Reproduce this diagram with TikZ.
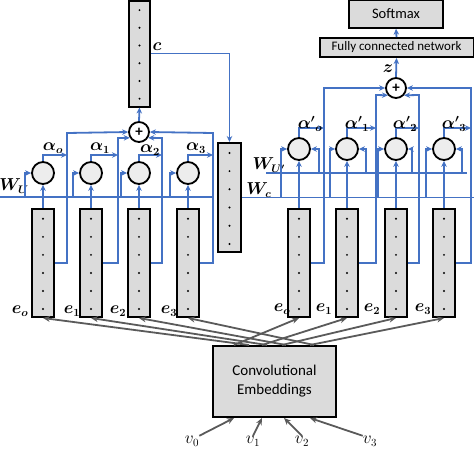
\documentclass[tikz,border=0pt]{standalone}
\usepackage{bm}
\usepackage{fontspec}
\setmainfont{Carlito}
\usetikzlibrary{arrows.meta,calc}
\definecolor{lnblue}{RGB}{68,114,196}
\definecolor{arrgray}{RGB}{90,90,90}
\tikzset{
  vecbox/.style={draw=black,line width=2pt,fill=black!14,inner sep=0pt},
  unit/.style={circle,draw=black,line width=1.8pt,fill=black!7,minimum size=22pt,inner sep=0pt},
  sumnode/.style={circle,draw=black,line width=1.8pt,fill=white,minimum size=20pt,inner sep=0pt,font=\bfseries\fontsize{15}{15}\selectfont},
  txtbox/.style={draw=black,line width=2pt,fill=black!14,inner sep=0pt,align=center},
  bl/.style={draw=lnblue,line width=1.8pt},
  barr/.style={draw=lnblue,line width=1.8pt,-{Stealth[length=6pt,width=5.5pt]}},
  garr/.style={draw=arrgray,line width=1.8pt,-{Stealth[length=7pt,width=6pt]}},
  lab/.style={inner sep=0pt,font=\boldmath\fontsize{16}{18}\selectfont},
  vlab/.style={inner sep=0pt,font=\fontsize{16}{18}\selectfont},
}
\newcommand{\boxdots}[1]{\foreach \k in {1,...,6}{\fill ($(#1.north)!{(\k-0.4)/6.1}!(#1.south)$) circle (1.1pt);}}
\begin{document}
\begin{tikzpicture}[x=1pt,y=-1pt]
\useasboundingbox (0,0) rectangle (474,448);

% ---------- left attention block ----------
\node[vecbox,minimum width=21pt,minimum height=106pt] (cbox) at (139.5,53.5) {};
\boxdots{cbox}
\node[lab] (clab) at (157,47) {$c$};
\node[sumnode] (plusL) at (139,132) {+};

\foreach \i/\x in {0/43,1/91,2/139,3/188}{
  \node[unit] (aL\i) at (\x,173) {};
  \node[vecbox,minimum width=22pt,minimum height=108pt] (eL\i) at (\x,263) {};
  \boxdots{eL\i}
}

\node[vecbox,minimum width=23pt,minimum height=109pt] (mid) at (229.5,197.5) {};
\boxdots{mid}

% W_U line
\coordinate (wuA) at (0,197);
\coordinate (wuB) at (213,197);
\draw[bl] (wuA) -- (wuB);
\node[lab] (wulab) at (14,186) {$W_U$};

\foreach \i/\b/\s in {0/25/67,1/73/118,2/121/162,3/170/213}{
  \draw[barr] (eL\i.north) -- (aL\i.south);
  \draw[barr] (\b,197) |- (aL\i.west);
  \draw[barr] (aL\i.north) |- (\s,155);
}
\draw[barr] (eL0.east) -- (67,263) -- (67,133) -- (plusL.west);
\draw[barr] (eL1.east) -- (118,263) -- (118,138) -- (plusL.212);
\draw[barr] (eL2.east) -- (162,263) -- (162,138) -- (plusL.328);
\draw[barr] (eL3.east) -- (213,263) -- (213,133) -- (plusL.east);
\draw[barr] (plusL.north) -- (cbox.south);
\draw[barr] (cbox.east) -| (mid.north);

\node[lab] (al0) at (53,148) {$\alpha_o$};
\node[lab] (al1) at (100,148) {$\alpha_1$};
\node[lab] (al2) at (150,150) {$\alpha_2$};
\node[lab] (al3) at (196,148) {$\alpha_3$};

\node[lab] at (20,311) {$e_o$};
\node[lab] at (72,311) {$e_1$};
\node[lab] at (118,311) {$e_2$};
\node[lab] at (169,311) {$e_3$};

% ---------- right attention block ----------
\node[txtbox,minimum width=94pt,minimum height=27.5pt,font=\fontsize{14.5}{16}\selectfont] (soft) at (396,14) {Softmax};
\node[txtbox,minimum width=154pt,minimum height=19pt,font=\fontsize{13}{15}\selectfont] (fcn) at (396.5,47.5) {Fully connected network};
\node[sumnode] (plusR) at (396,88) {+};
\node[lab] (zlab) at (388,69) {$z$};
\draw[barr] (plusR.north) -- (fcn.south);
\draw[barr] (fcn.north) -- (soft.south);

\foreach \i/\x in {0/299,1/347,2/396,3/444}{
  \node[unit] (aR\i) at (\x,149) {};
  \node[vecbox,minimum width=22pt,minimum height=108pt] (eR\i) at (\x,263) {};
  \boxdots{eR\i}
}

% W_c and W_U' lines
\coordinate (wcB) at (474,197.5);
\draw[bl] (mid.east) -- (wcB);
\coordinate (wuPA) at (266,173);
\coordinate (wuPB) at (467,173);
\draw[bl] (wuPA) -- (wuPB);
\node[lab] (wcl) at (259,190) {$W_c$};
\node[lab] (wupl) at (269,165) {$W_{U'}$};

\foreach \i/\l/\r/\s in {0/281/319/324,1/330/366/376,2/378/412/419,3/426/462/471}{
  \draw[barr] (eR\i.north) -- (aR\i.south);
  \draw[barr] (\l,197.5) |- (aR\i.west);
  \draw[barr] (\r,173) |- (aR\i.east);
  \draw[barr] (aR\i.north) |- (\s,128);
}
\draw[barr] (eR0.east) -- (324,263) -- (324,88) -- (plusR.west);
\draw[barr] (eR1.east) -- (376,263) -- (376,95) -- (plusR.222);
\draw[barr] (eR2.east) -- (419,263) -- (419,95) -- (plusR.318);
\draw[barr] (eR3.east) -- (471,263) -- (471,88) -- (plusR.east);

\node[lab] at (310,124) {$\alpha'{}_o$};
\node[lab] at (357,124) {$\alpha'{}_1$};
\node[lab] at (405,124) {$\alpha'{}_2$};
\node[lab] at (454,124) {$\alpha'{}_3$};

\node[lab] at (282,309) {$e_o$};
\node[lab] at (324,309) {$e_1$};
\node[lab] at (372,309) {$e_2$};
\node[lab] at (423,309) {$e_3$};

% ---------- convolutional embeddings ----------
\node[txtbox,minimum width=123pt,minimum height=71pt,font=\fontsize{15}{19}\selectfont] (conv) at (274.5,381.5) {Convolutional\\Embeddings};

\draw[garr] ([xshift=37pt]conv.north west) -- (eL0.south);
\draw[garr] ([xshift=55pt]conv.north west) -- (eL1.south);
\draw[garr] ([xshift=74pt]conv.north west) -- (eL2.south);
\draw[garr] ([xshift=102pt]conv.north west) -- (eL3.south);
\draw[garr] ([xshift=22pt]conv.north west) -- (eR0.south);
\draw[garr] ([xshift=50pt]conv.north west) -- (eR1.south);
\draw[garr] ([xshift=70pt]conv.north west) -- (eR2.south);
\draw[garr] ([xshift=98pt]conv.north west) -- (eR3.south);

\node[vlab] (v0) at (192,441) {$v_0$};
\node[vlab] (v1) at (253,441) {$v_1$};
\node[vlab] (v2) at (302,441) {$v_2$};
\node[vlab] (v3) at (370,441) {$v_3$};
\draw[garr] (v0.north east) -- ([xshift=22pt]conv.south west);
\draw[garr] (v1.north) -- ([xshift=50pt]conv.south west);
\draw[garr] (v2.north) -- ([xshift=72pt]conv.south west);
\draw[garr] (v3.north west) -- ([xshift=98pt]conv.south west);
\end{tikzpicture}
\end{document}
